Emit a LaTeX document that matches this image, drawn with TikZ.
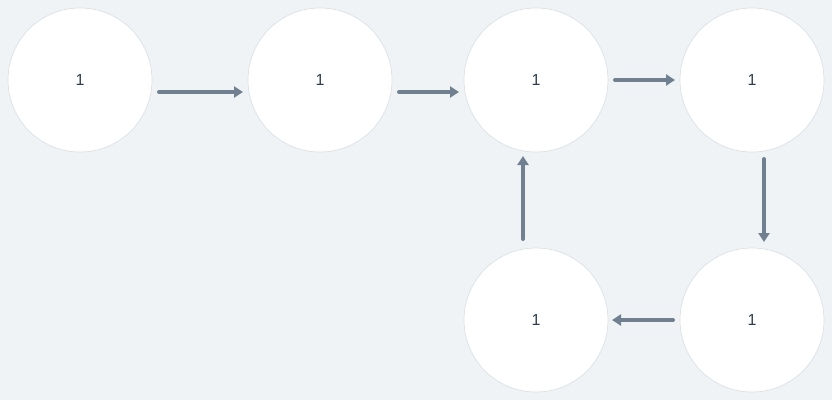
\documentclass[tikz,border=0pt]{standalone}
\usepackage{fontspec}
\setmainfont{Liberation Sans}
\usetikzlibrary{arrows.meta}
\definecolor{bg}{HTML}{F0F3F6}
\definecolor{edge}{HTML}{DADDE2}
\definecolor{arr}{HTML}{708090}
\definecolor{txt}{HTML}{2F3E4E}
\begin{document}
\begin{tikzpicture}[x=1pt,y=-1pt,
  circ/.style={circle,fill=white,draw=edge,line width=0.6pt,minimum size=144pt,inner sep=0pt,font=\fontsize{16}{19}\selectfont,text=txt},
  link/.style={draw=arr,line width=4pt,line cap=round,-{Triangle[length=9pt,width=11pt]}}]
\fill[bg] (0,0) rectangle (832,400);
\useasboundingbox (0,0) rectangle (832,400);
\node[circ] (a) at (80,80) {1};
\node[circ] (b) at (320,80) {1};
\node[circ] (c) at (536,80) {1};
\node[circ] (d) at (752,80) {1};
\node[circ] (e) at (752,320) {1};
\node[circ] (f) at (536,320) {1};
\coordinate (a1) at (159,92); \coordinate (b1) at (243,92);
\coordinate (b2) at (399,92); \coordinate (c2) at (459,92);
\coordinate (c3) at (615,80); \coordinate (d3) at (675,80);
\coordinate (d4) at (764,159); \coordinate (e4) at (764,242);
\coordinate (e5) at (673,320); \coordinate (f5) at (612,320);
\coordinate (f6) at (523,239); \coordinate (c6) at (523,156);
\draw[link] (a1) -- (b1);
\draw[link] (b2) -- (c2);
\draw[link] (c3) -- (d3);
\draw[link] (d4) -- (e4);
\draw[link] (e5) -- (f5);
\draw[link] (f6) -- (c6);
\end{tikzpicture}
\end{document}
